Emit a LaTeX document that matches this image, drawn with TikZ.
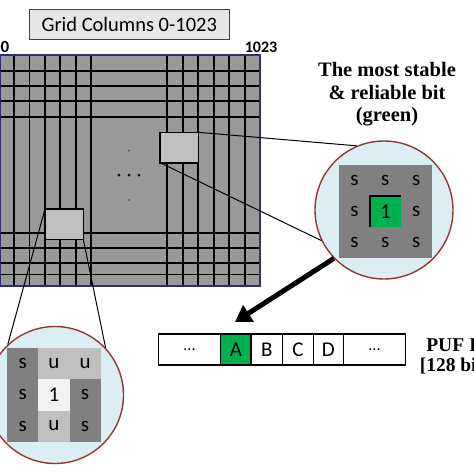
\documentclass[tikz,border=0pt]{standalone}
\usepackage{fontspec}
\setmainfont{Liberation Serif}
\newfontfamily\calibri{Carlito}
\usepackage{xcolor}
\usepackage{tikz}
\usetikzlibrary{positioning,arrows.meta}

\definecolor{gridgray}{HTML}{999999}
\definecolor{cellgray}{HTML}{808080}
\definecolor{ugray}{HTML}{BFBFBF}
\definecolor{onewhite}{HTML}{F2F2F2}
\definecolor{bitgreen}{HTML}{00B050}
\definecolor{lensblue}{HTML}{DAEEF3}
\definecolor{lensred}{HTML}{953735}
\definecolor{gridnavy}{HTML}{2E2E7A}
\definecolor{boxfill}{HTML}{E7E6E6}
\definecolor{boxdraw}{HTML}{404040}

\begin{document}
\begin{tikzpicture}[x=1pt,y=-1pt,
  lens/.style={circle, draw=lensred, line width=1.4pt, fill=lensblue, minimum size=138pt, inner sep=0pt},
  bitcell/.style={rectangle, minimum size=30.9pt, inner sep=0pt, outer sep=0pt, font=\calibri\fontsize{21}{21}\selectfont},
  pufcell/.style={rectangle, draw, line width=1.2pt, minimum height=31pt, inner sep=0pt, outer sep=0pt, font=\calibri\fontsize{21}{21}\selectfont},
  window/.style={rectangle, draw, line width=1.6pt, fill=ugray, inner sep=0pt, outer sep=0pt},
  zoomline/.style={line width=1pt}]

\clip (0,0) rectangle (474,474);
\fill[white] (0,0) rectangle (474,474);

% Header box
\node[draw=boxdraw, fill=boxfill, line width=1.4pt, minimum width=200pt, minimum height=30pt,
      inner sep=0pt, font=\calibri\fontsize{20.5}{20.5}\selectfont] (header) at (129.3,24.2) {Grid Columns 0-1023};

% Column index labels
\node[font=\calibri\bfseries\fontsize{17}{17}\selectfont] (colfirst) at (5,47) {0};
\node[font=\calibri\bfseries\fontsize{16}{16}\selectfont] (collast) at (261,47) {1023};

% Cell array
\fill[gridgray] (0,55) rectangle (260,286);
\foreach \x in {14,29.4,44.8,60.2,75.6,91,167.3,182.8,198.3,213.8,229.3,244.8}
  \draw[line width=1.8pt] (\x,55) -- (\x,286);
\foreach \y in {70.6,86,101.3,117,233.3,248.3,263.3,274.5}
  \draw[line width=1.8pt] (0,\y) -- (260,\y);
\draw[gridnavy, line width=1.1pt] (0,55) rectangle (260,286);

% Ellipsis dots
\fill[gridnavy] (129,150.7) circle (0.9pt);
\fill (119,175) circle (1.5pt);
\fill (129,175) circle (1.5pt);
\fill (139,175) circle (1.5pt);
\fill[gridnavy] (129,200) circle (0.9pt);

% Selected windows
\node[window, minimum width=38.3pt, minimum height=30.4pt, anchor=north west] (winR) at (160,132.3) {};
\node[window, minimum width=38.3pt, minimum height=30.3pt, anchor=north west] (winL) at (45,209) {};

% Magnifier lenses
\node[lens] (lensR) at (384,210) {};
\node[lens, minimum size=137pt] (lensL) at (55,395) {};

\draw[zoomline] (winR.north east) -- (lensR.113);
\draw[zoomline] (winR.south west) -- (lensR.206);
\draw[zoomline] (winL.north west) -- (lensL.133);
\draw[zoomline] (winL.south east) -- (lensL.43);

% Stable neighbourhood (right lens)
\foreach \i/\j/\c/\t in {0/0/cellgray/s, 1/0/cellgray/s, 2/0/cellgray/s,
                         0/1/cellgray/s, 1/1/bitgreen/1, 2/1/cellgray/s,
                         0/2/cellgray/s, 1/2/cellgray/s, 2/2/cellgray/s}
  \node[bitcell, fill=\c, anchor=north west] (r-\i-\j) at ({339+30.9*\i},{165+30.9*\j}) {\t};
\draw[line width=1.4pt] (r-1-1.south west) -- (r-1-1.north west) -- (r-1-1.north east);

% Mixed neighbourhood (left lens)
\foreach \i/\j/\c/\t in {0/0/cellgray/s, 1/0/ugray/u, 2/0/ugray/u,
                         0/1/cellgray/s, 1/1/onewhite/1, 2/1/cellgray/s,
                         0/2/cellgray/s, 1/2/ugray/u, 2/2/cellgray/s}
  \node[bitcell, minimum size=31.1pt, fill=\c, anchor=north west] (l-\i-\j) at ({7.3+31.1*\i},{348.3+31.1*\j}) {\t};

% PUF register
\node[pufcell, minimum width=62.4pt, anchor=west, font=\calibri\fontsize{16}{16}\selectfont] (pdots1) at (158.3,349.5) {...};
\node[pufcell, fill=bitgreen, minimum width=30.3pt, right=0pt of pdots1] (pA) {A};
\node[pufcell, minimum width=31.7pt, right=0pt of pA] (pB) {B};
\node[pufcell, minimum width=30.6pt, right=0pt of pB] (pC) {C};
\node[pufcell, minimum width=30pt, right=0pt of pC] (pD) {D};
\node[pufcell, minimum width=62.4pt, right=0pt of pD, font=\calibri\fontsize{16}{16}\selectfont] (pdots2) {...};

% Arrow into register
\coordinate (arrowtip) at (235,322);
\draw[line width=5pt, -{Triangle[length=16pt,width=19pt]}] (lensR.224) -- (arrowtip);

% Notes
\node[font=\bfseries\fontsize{20.5}{22.5}\selectfont, align=center] (stablenote) at (387,94.4)
  {The most stable\\ \& reliable bit\\(green)};
\node[font=\bfseries\fontsize{19.5}{19.5}\selectfont, align=center] (pufnote) at (458.5,356.5)
  {PUF ID\\{[128 bits]}};

\end{tikzpicture}
\end{document}
